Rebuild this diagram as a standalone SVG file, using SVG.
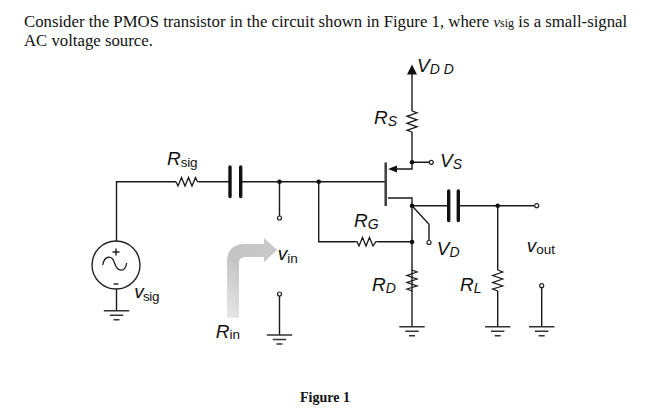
<svg xmlns="http://www.w3.org/2000/svg" width="654" height="415" viewBox="0 0 654 415">
<style>
.w{fill:none;stroke:#1a1a1a;stroke-width:1.4}
.r{fill:none;stroke:#1a1a1a;stroke-width:1.3;stroke-linejoin:miter}
.p{fill:none;stroke:#111;stroke-width:3.4;stroke-linecap:round}
.d{fill:#111}
.o{fill:#fff;stroke:#222;stroke-width:1.2}
.g{fill:none;stroke:#333;stroke-width:1.4}
.h{font-family:"Liberation Serif",serif;font-size:16.75px;fill:#111}
.l{font-family:"Liberation Sans",sans-serif;font-size:19px;fill:#111}
.i{font-style:italic}
.s{font-size:14px}
.n{font-size:13.5px;font-style:normal}
</style>
<defs>
<linearGradient id="ag" x1="0" y1="1" x2="0.6" y2="0">
<stop offset="0" stop-color="#e8e8e8"/><stop offset="0.6" stop-color="#c4c4c4"/><stop offset="1" stop-color="#c8c8c8"/>
</linearGradient>
<g id="gnd"><path class="g" d="M-12.700 0H12.700M-6.700 4.500H6.700M-3 9H3"/></g>
</defs>
<rect width="654" height="415" fill="#fff"/>
<text class="h" x="24" y="27">Consider the PMOS transistor in the circuit shown in Figure 1, where <tspan class="i" font-size="15">v</tspan><tspan font-size="12">sig</tspan> is a small-signal</text>
<text class="h" x="24" y="45.500">AC voltage source.</text>
<text class="h" x="300" y="402" font-weight="bold" style="font-size:14px">Figure 1</text>

<g id="connectors">
<path class="w" d="M116.500 241V181.700H176M199 181.700H230M241 181.700H386"/>
<path class="w" d="M279.500 181.700V216M279.500 296V335"/>
<path class="w" d="M318.700 181.700V241.700H355M378 241.700H412"/>
<path class="w" d="M412 72V111M412 132V169H396M412 162.300H429"/>
<path class="w" d="M388 198H412V327"/>
<path class="w" d="M412 205.700L429 224.300V240M412 205.700H449M458 205.700H534"/>
<path class="w" d="M497.700 205.700V270M497.700 291V327M541.700 288V327M116.500 289V310.700"/>
</g>

<g id="vdd"><path class="d" d="M412 64.500L417 74.500H407Z"/>
<text class="l i" x="417" y="71.700">V<tspan class="s" dy="2.300">D D</tspan></text></g>

<g id="rs"><path class="r" d="M412 111L417 112.800L407 116.300L417 119.800L407 123.300L417 126.800L407 130.300L412 132"/>
<text class="l i" x="374" y="124">R<tspan class="s" dy="2">S</tspan></text></g>

<g id="vs"><circle class="d" cx="412" cy="162.300" r="2.300"/><circle class="o" cx="431.300" cy="162.300" r="2"/>
<text class="l i" x="440" y="166.700">V<tspan class="s" dy="2.300">S</tspan></text></g>

<g id="pmos">
<path d="M385.700 162.500V206" fill="none" stroke="#444" stroke-width="2.600"/>
<path class="d" d="M388 169L397 165.500V172.500Z"/>
</g>

<g id="rsig"><path class="r" d="M176 181.700L178 186L181.500 177.500L185 186L188.500 177.500L192 186L195.500 177.500L197.500 181.700H199"/>
<text class="l i" x="167" y="165">R<tspan class="n" dy="1.500" style="letter-spacing:-0.300px">sig</tspan></text></g>

<g id="c1"><path class="p" d="M230 167V196.500M240.700 167V196.500"/></g>
<g id="n-vin"><circle class="d" cx="279.500" cy="181.700" r="2.300"/><circle class="o" cx="279.500" cy="218" r="2"/>
<circle class="o" cx="279.500" cy="294" r="2"/><use href="#gnd" x="279.500" y="335"/>
<text class="l i" x="277.700" y="260">v<tspan class="n" dy="2.500">in</tspan></text></g>
<g id="n-g"><circle class="d" cx="318.700" cy="181.700" r="2.300"/></g>

<g id="rg"><path class="r" d="M355 241.700H357L359 246L362.500 237.500L366 246L369.500 237.500L373 246L376 241.700H378"/>
<text class="l i" x="354" y="227">R<tspan class="s" dy="2">G</tspan></text>
<circle class="d" cx="412" cy="242" r="2.300"/></g>

<g id="vd"><circle class="d" cx="412" cy="205.700" r="2.300"/><circle class="o" cx="429" cy="242.500" r="2"/>
<text class="l i" x="436.700" y="255">V<tspan class="s" dy="2">D</tspan></text></g>

<g id="c2"><path class="p" d="M448.700 191V220.500M458.300 191V220.500"/></g>

<g id="rd"><path class="r" d="M412 270L417 272L407 275.500L417 279L407 282.500L417 286L407 289L412 291"/>
<text class="l i" x="372" y="290.700">R<tspan class="s" dy="2">D</tspan></text><use href="#gnd" x="412" y="326.700"/></g>

<g id="rl"><path class="r" d="M497.700 270L502.700 272L492.700 275.500L502.700 279L492.700 282.500L502.700 286L492.700 289L497.700 291"/>
<text class="l i" x="460" y="290.700">R<tspan class="s" dy="2">L</tspan></text><use href="#gnd" x="497.700" y="326.700"/></g>

<g id="vout"><circle class="d" cx="497.700" cy="205.700" r="2.300"/><circle class="o" cx="536.700" cy="205.700" r="2"/>
<circle class="o" cx="541.700" cy="285.700" r="2"/><use href="#gnd" x="541.700" y="326.700"/>
<text class="l i" x="526.700" y="251.700">v<tspan class="n" dy="2.300">out</tspan></text></g>

<g id="vsig"><circle cx="116" cy="265" r="24" fill="none" stroke="#222" stroke-width="1.400"/>
<path class="r" d="M102.700 265C104.500 255 112 255 114.500 263C117.500 272 125 273 126.700 263"/>
<path d="M112.500 252H119.500M116 248.500V255.500" stroke="#222" stroke-width="1.400" fill="none"/>
<path d="M113.500 284H118.500" stroke="#222" stroke-width="1.400"/>
<use href="#gnd" x="116.500" y="310.700"/>
<text class="l i" x="134.300" y="298">v<tspan class="n" dx="-0.800" dy="2.500" style="letter-spacing:-0.400px">sig</tspan></text></g>

<g id="rin"><path fill="url(#ag)" d="M227 317.700V262C227 250 233 244 245 244H264V238L277 250L264 262V257H246C241 257 239 259 239 264V317.700Z"/>
<text class="l i" x="215.700" y="337.700">R<tspan class="n" dy="1.500">in</tspan></text></g>
</svg>
